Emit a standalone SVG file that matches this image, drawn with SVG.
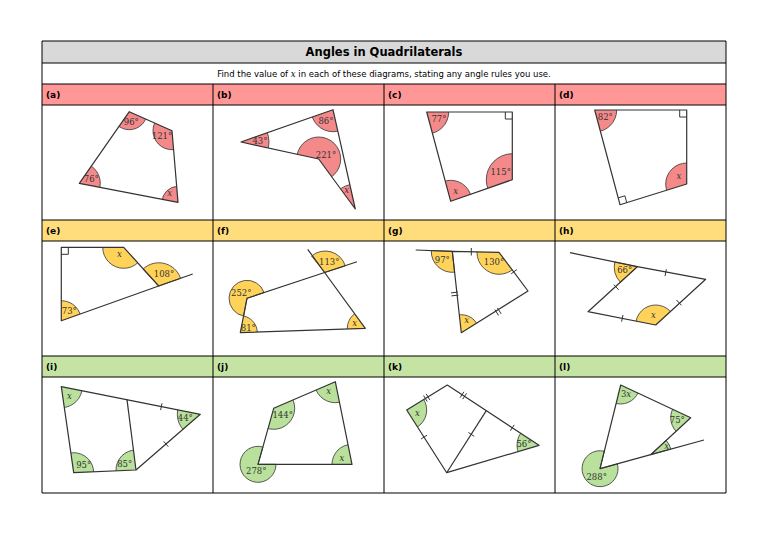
<svg xmlns="http://www.w3.org/2000/svg" width="768" height="543" viewBox="0 0 768 543">
<style>
.hd{font-family:"DejaVu Sans",Verdana,sans-serif;font-size:9px;font-weight:bold;fill:#000}
.lb{font-family:"DejaVu Serif","Liberation Serif",serif;font-size:8.5px;fill:#333;text-anchor:middle}
.it{font-style:italic}
.sh{fill:none;stroke:#333;stroke-width:1.2;stroke-linejoin:round}
.ln{stroke:#333;stroke-width:1.2;fill:none}
.tk{stroke:#333;stroke-width:1}
.r{fill:#f4898a;stroke:#333;stroke-width:0.8}
.y{fill:#ffd35a;stroke:#333;stroke-width:0.8}
.g{fill:#b9e19b;stroke:#333;stroke-width:0.8}
.grid{stroke:#000;stroke-width:1;fill:none}
</style>
<defs>
<clipPath id="ca"><polygon points="129.3,111.7 172,130.7 178,202.3 79.3,183.3"/></clipPath>
<clipPath id="cb"><polygon points="241,142 333,109.7 355.3,209 318.7,159"/></clipPath>
<clipPath id="cc"><polygon points="426.7,112 512.3,112 512.3,179.7 450.7,201.3"/></clipPath>
<clipPath id="cd"><polygon points="594.7,110 686.7,110 686.7,184 620,204.7"/></clipPath>
<clipPath id="ce"><polygon points="61.3,247.3 123.7,247.3 158.7,286 61.3,320.7"/></clipPath>
<clipPath id="cf"><polygon points="247,298.3 240.3,332.7 365.3,328.3 324.6,272.5"/></clipPath>
<clipPath id="cg"><polygon points="452.3,251.3 499,252.3 528,291 461.3,332.7"/></clipPath>
<clipPath id="ch"><polygon points="637.3,266.7 705.7,279.3 655.7,325 588,311.7"/></clipPath>
<clipPath id="ci"><polygon points="61.3,386.7 200.3,414.3 136,470 73.7,472.7"/></clipPath>
<clipPath id="ci2"><polygon points="61.3,386.7 127,399.7 136,470 73.7,472.7"/></clipPath>
<clipPath id="cj"><polygon points="273.7,408.3 335.3,381.7 352,464.3 258,464.3"/></clipPath>
<clipPath id="ck"><polygon points="447.3,385 539,445.3 446.7,472.7 406.7,410"/></clipPath>
<clipPath id="cl"><polygon points="620.7,385 690.7,417.7 650.7,454.7 600,468.7"/></clipPath>
</defs>
<rect width="768" height="543" fill="#fff"/>
<g id="table">
<rect x="42" y="41" width="684" height="22" fill="#d9d9d9"/>
<rect x="42" y="84" width="684" height="21" fill="#ff9797"/>
<rect x="42" y="220" width="684" height="21" fill="#ffdc7c"/>
<rect x="42" y="356" width="684" height="21" fill="#c5e3a2"/>
<path class="grid" d="M42,41H726V493H42Z M42,63H726 M42,84H726 M42,105H726 M42,220H726 M42,241H726 M42,356H726 M42,377H726 M213,84V493 M384,84V493 M555,84V493"/>
<text x="384" y="56" text-anchor="middle" style="font-family:'DejaVu Sans',Verdana,sans-serif;font-size:11.5px;font-weight:bold">Angles in Quadrilaterals</text>
<text x="384" y="77" text-anchor="middle" style="font-family:'DejaVu Sans',Verdana,sans-serif;font-size:8.5px">Find the value of <tspan style="font-family:'DejaVu Serif',serif;font-style:italic">x</tspan> in each of these diagrams, stating any angle rules you use.</text>
<text class="hd" x="46" y="98">(a)</text><text class="hd" x="217" y="98">(b)</text><text class="hd" x="388" y="98">(c)</text><text class="hd" x="559" y="98">(d)</text>
<text class="hd" x="46" y="234">(e)</text><text class="hd" x="217" y="234">(f)</text><text class="hd" x="388" y="234">(g)</text><text class="hd" x="559" y="234">(h)</text>
<text class="hd" x="46" y="370">(i)</text><text class="hd" x="217" y="370">(j)</text><text class="hd" x="388" y="370">(k)</text><text class="hd" x="559" y="370">(l)</text>
</g>
<g id="a">
<g clip-path="url(#ca)"><circle class="r" cx="129.3" cy="111.7" r="18"/><circle class="r" cx="172" cy="130.7" r="19"/><circle class="r" cx="178" cy="202.3" r="16"/><circle class="r" cx="79.3" cy="183.3" r="21"/></g>
<polygon class="sh" points="129.3,111.7 172,130.7 178,202.3 79.3,183.3"/>
<text class="lb" x="131.3" y="124.5">96°</text><text class="lb" x="162" y="139">121°</text><text class="lb it" x="169.7" y="196">x</text><text class="lb" x="91.3" y="182">76°</text>
</g>
<g id="b">
<g clip-path="url(#cb)"><circle class="r" cx="241" cy="142" r="28"/><circle class="r" cx="333" cy="109.7" r="22"/><circle class="r" cx="318.7" cy="159" r="22"/><circle class="r" cx="355.3" cy="209" r="25"/></g>
<polygon class="sh" points="241,142 333,109.7 355.3,209 318.7,159"/>
<text class="lb" x="260" y="143.5">43°</text><text class="lb" x="326" y="123.5">86°</text><text class="lb" x="326" y="158">221°</text><text class="lb it" x="346.7" y="193">x</text>
</g>
<g id="c">
<g clip-path="url(#cc)"><circle class="r" cx="426.7" cy="112" r="22"/><circle class="r" cx="512.3" cy="179.7" r="26"/><circle class="r" cx="450.7" cy="201.3" r="21"/></g>
<polygon class="sh" points="426.7,112 512.3,112 512.3,179.7 450.7,201.3"/>
<path class="tk" fill="none" d="M505.3,112V119H512.3"/>
<text class="lb" x="439" y="122">77°</text><text class="lb" x="500.7" y="175">115°</text><text class="lb it" x="455.7" y="193.5">x</text>
</g>
<g id="d">
<g clip-path="url(#cd)"><circle class="r" cx="594.7" cy="110" r="22"/><circle class="r" cx="686.7" cy="184" r="21"/></g>
<polygon class="sh" points="594.7,110 686.7,110 686.7,184 620,204.7"/>
<path class="tk" fill="none" d="M679.7,110V117H686.7 M618.2,197.9L624.9,195.8L626.7,202.6"/>
<text class="lb" x="605.3" y="120">82°</text><text class="lb it" x="679" y="178.5">x</text>
</g>
<g id="e">
<path class="y" d="M158.7,286L180.6,278.3A23,23 0 0,0 143,269.1Z"/>
<g clip-path="url(#ce)"><circle class="y" cx="123.7" cy="247.3" r="21"/><circle class="y" cx="61.3" cy="320.7" r="20"/></g>
<polygon class="sh" points="61.3,247.3 123.7,247.3 158.7,286 61.3,320.7"/>
<path class="ln" d="M158.7,286L192.7,274"/>
<path class="tk" fill="none" d="M61.3,254.3H68.3V247.3"/>
<text class="lb it" x="119.3" y="257">x</text><text class="lb" x="164" y="277">108°</text><text class="lb" x="69.3" y="313.5">73°</text>
</g>
<g id="f">
<path class="y" d="M324.6,272.5L345.3,265.9A21,21 0 0,0 311.6,256Z"/>
<path class="y" d="M247,298.3L264.1,292.6A18,18 0 1,0 243.6,316Z"/>
<g clip-path="url(#cf)"><circle class="y" cx="240.3" cy="332.7" r="17"/><circle class="y" cx="365.3" cy="328.3" r="18"/></g>
<polygon class="sh" points="247,298.3 240.3,332.7 365.3,328.3 324.6,272.5"/>
<path class="ln" d="M324.6,272.5L357,261.7 M324.6,272.5L307.7,249.3"/>
<text class="lb" x="329.3" y="264.5">113°</text><text class="lb" x="241.3" y="295.5">252°</text><text class="lb" x="248.3" y="330.5">81°</text><text class="lb it" x="354.7" y="326">x</text>
</g>
<g id="g">
<path class="y" d="M452.3,251.3L431.3,250.6A21,21 0 0,0 454.6,272.2Z"/>
<g clip-path="url(#cg)"><circle class="y" cx="499" cy="252.3" r="22"/><circle class="y" cx="461.3" cy="332.7" r="18"/></g>
<polygon class="sh" points="452.3,251.3 499,252.3 528,291 461.3,332.7"/>
<path class="ln" d="M415.7,250L452.3,251.3"/>
<path class="tk" d="M471.3,248V255.5 M516.8,269.6L511.2,273.8 M458,292.1L451,292.9 M458.4,295.1L451.4,295.9 M498.6,315.5L494.8,309.5 M501.2,313.9L497.4,307.9"/>
<text class="lb" x="442.3" y="263">97°</text><text class="lb" x="494" y="265">130°</text><text class="lb it" x="466.7" y="323">x</text>
</g>
<g id="h">
<path class="y" d="M637.3,266.7L614.8,262A23,23 0 0,0 620.3,282.2Z"/>
<g clip-path="url(#ch)"><circle class="y" cx="655.7" cy="325" r="20"/></g>
<polygon class="sh" points="637.3,266.7 705.7,279.3 655.7,325 588,311.7"/>
<path class="ln" d="M570,252.7L637.3,266.7"/>
<path class="tk" d="M665.1,276.1L666.3,269.3 M681.4,305.3L676.6,300.1 M623,314.9L621.6,321.7 M618.7,289.9L613.9,284.7"/>
<text class="lb" x="624.7" y="273">66°</text><text class="lb it" x="653.3" y="318">x</text>
</g>
<g id="i">
<g clip-path="url(#ci)"><circle class="g" cx="61.3" cy="386.7" r="21"/><circle class="g" cx="200.3" cy="414.3" r="23"/><circle class="g" cx="73.7" cy="472.7" r="20"/></g>
<g clip-path="url(#ci2)"><circle class="g" cx="136" cy="470" r="20"/></g>
<polygon class="sh" points="61.3,386.7 200.3,414.3 136,470 73.7,472.7"/>
<path class="ln" d="M127,399.7L136,470"/>
<path class="tk" d="M160.6,410.1L162,403.3 M168.3,446.7L163.7,441.4"/>
<text class="lb it" x="69.3" y="399">x</text><text class="lb" x="185.3" y="420.5">44°</text><text class="lb" x="83.7" y="468">95°</text><text class="lb" x="124.7" y="467">85°</text>
</g>
<g id="j">
<path class="g" d="M258,464.3L262.9,447A18,18 0 1,0 276,464.3Z"/>
<g clip-path="url(#cj)"><circle class="g" cx="273.7" cy="408.3" r="21"/><circle class="g" cx="335.3" cy="381.7" r="21"/><circle class="g" cx="352" cy="464.3" r="20"/></g>
<polygon class="sh" points="273.7,408.3 335.3,381.7 352,464.3 258,464.3"/>
<text class="lb" x="282.7" y="417.5">144°</text><text class="lb it" x="328.7" y="394">x</text><text class="lb it" x="342" y="460.5">x</text><text class="lb" x="256.3" y="474">278°</text>
</g>
<g id="k">
<g clip-path="url(#ck)"><circle class="g" cx="406.7" cy="410" r="20"/><circle class="g" cx="539" cy="445.3" r="22"/></g>
<polygon class="sh" points="447.3,385 539,445.3 446.7,472.7 406.7,410"/>
<path class="ln" d="M486.3,410.6L446.7,472.7"/>
<path class="tk" d="M427.2,401.5L423.6,395.5 M429.8,399.9L426.2,393.9 M460.1,397.6L463.9,391.8 M462.7,399.2L466.5,393.4 M510.4,430.7L514.2,424.9 M427,435.2L421.1,439 M474.2,436.3L468.4,432.5"/>
<text class="lb it" x="417.3" y="415.5">x</text><text class="lb" x="524" y="447">56°</text>
</g>
<g id="l">
<path class="g" d="M650.7,454.7L670.9,449A21,21 0 0,0 666,440.3Z"/>
<path class="g" d="M600,468.7L604.3,451.2A18,18 0 1,0 617.4,463.9Z"/>
<g clip-path="url(#cl)"><circle class="g" cx="620.7" cy="385" r="19"/><circle class="g" cx="690.7" cy="417.7" r="20"/></g>
<polygon class="sh" points="620.7,385 690.7,417.7 650.7,454.7 600,468.7"/>
<path class="ln" d="M650.7,454.7L704,440"/>
<text class="lb" x="626" y="397"><tspan>3</tspan><tspan class="it">x</tspan></text><text class="lb" x="677.3" y="423">75°</text><text class="lb it" x="666.7" y="449">x</text><text class="lb" x="596.7" y="479.5">288°</text>
</g>
</svg>
